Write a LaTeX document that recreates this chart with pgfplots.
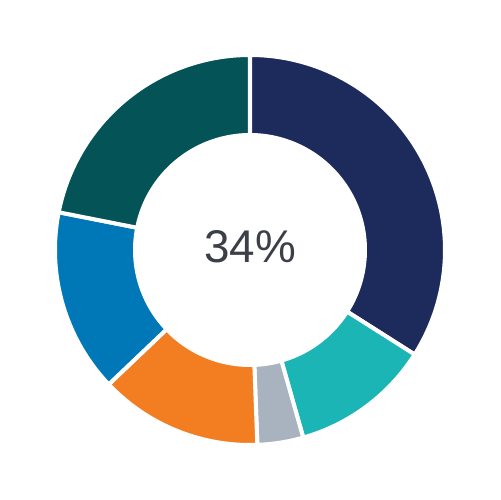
\documentclass[border=0pt]{standalone}
\usepackage{pgfplots}
\pgfplotsset{compat=1.18}
\usepackage{fontspec}
\setmainfont{Liberation Sans}
\definecolor{cNavy}{HTML}{1C2B5B}
\definecolor{cTeal}{HTML}{1CB5B6}
\definecolor{cGray}{HTML}{A9B3BF}
\definecolor{cOrange}{HTML}{F37D21}
\definecolor{cBlue}{HTML}{0077B6}
\definecolor{cGreen}{HTML}{045457}
\definecolor{cText}{HTML}{3C3F48}
\begin{document}
\begin{tikzpicture}
\begin{axis}[
  width=500bp, height=500bp, scale only axis,
  xmin=-250, xmax=250, ymin=-250, ymax=250,
  hide axis, clip=false,
]
\path[draw=none] (-250,-250) rectangle (250,250);
% segments given by cumulative percentages (clockwise from top)
% Navy 34, Teal 11.6, Gray 3.8, Orange 13.5, Blue 15.2, Green 21.9
\addplot[fill=cNavy, draw=white, line width=4bp, samples=120, domain=0:34]
  ({195*sin(3.6*x)},{195*cos(3.6*x)}) -- (0,0) -- cycle;
\addplot[fill=cTeal, draw=white, line width=4bp, samples=60, domain=34:45.6]
  ({195*sin(3.6*x)},{195*cos(3.6*x)}) -- (0,0) -- cycle;
\addplot[fill=cGray, draw=white, line width=4bp, samples=20, domain=45.6:49.4]
  ({195*sin(3.6*x)},{195*cos(3.6*x)}) -- (0,0) -- cycle;
\addplot[fill=cOrange, draw=white, line width=4bp, samples=60, domain=49.4:62.9]
  ({195*sin(3.6*x)},{195*cos(3.6*x)}) -- (0,0) -- cycle;
\addplot[fill=cBlue, draw=white, line width=4bp, samples=60, domain=62.9:78.1]
  ({195*sin(3.6*x)},{195*cos(3.6*x)}) -- (0,0) -- cycle;
\addplot[fill=cGreen, draw=white, line width=4bp, samples=80, domain=78.1:100]
  ({195*sin(3.6*x)},{195*cos(3.6*x)}) -- (0,0) -- cycle;
% hole
\addplot[fill=white, draw=none, samples=200, domain=0:100]
  ({117*sin(3.6*x)},{117*cos(3.6*x)}) -- cycle;
\node[font=\fontsize{46}{50}\selectfont, text=cText, anchor=center] at (0,3.5) {34\%};
\end{axis}
\end{tikzpicture}
\end{document}
